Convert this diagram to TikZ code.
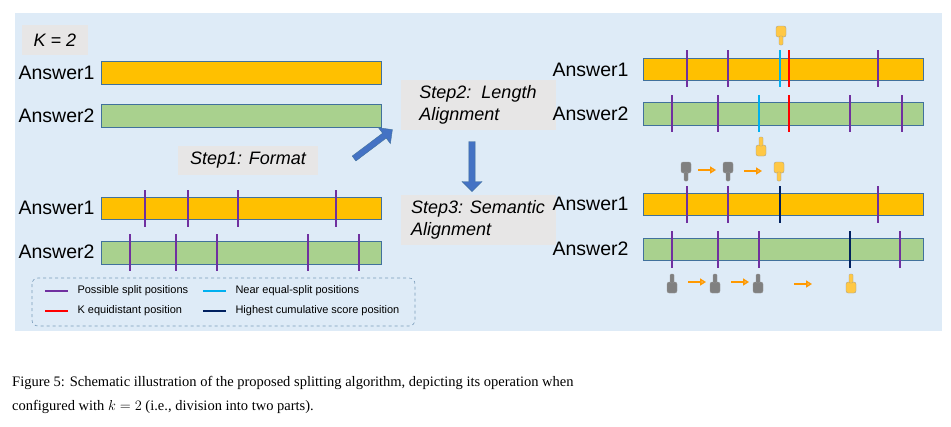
\documentclass[tikz,border=0pt]{standalone}
\usepackage{fontspec}
\setmainfont{Liberation Serif}
\newfontfamily\sansf{Liberation Sans}
\usetikzlibrary{shapes.arrows,arrows.meta}
\definecolor{bg}{HTML}{DEEBF7}
\definecolor{boxg}{HTML}{E7E6E6}
\definecolor{ora}{HTML}{FFC000}
\definecolor{grn}{HTML}{A9D18E}
\definecolor{brd}{HTML}{41719C}
\definecolor{pur}{HTML}{7030A0}
\definecolor{cya}{HTML}{00B0F0}
\definecolor{dkb}{HTML}{002060}
\definecolor{arr}{HTML}{4472C4}
\definecolor{hand}{HTML}{FFC845}
\definecolor{ghand}{HTML}{808080}
\definecolor{oarr}{HTML}{FF9900}
\begin{document}
\begin{tikzpicture}[x=1pt,y=-1pt,
  lab/.style={font=\sansf\fontsize{19.5}{22}\selectfont,anchor=east},
  bar/.style={draw=brd,line width=0.8pt},
  a1/.style={bar,fill=ora},
  a2/.style={bar,fill=grn},
  tick/.style={line width=2.6pt,pur},
  stepbox/.style={fill=boxg,font=\sansf\itshape\fontsize{18}{22}\selectfont,align=left,inner sep=5pt},
  fat/.style={single arrow,draw=brd,fill=arr,minimum height=48pt,minimum width=20pt,single arrow head extend=5pt,inner sep=2pt},
  leg/.style={font=\sansf\fontsize{11}{13}\selectfont,anchor=west},
  sarr/.style={oarr,line width=2.2pt,-{Triangle[open,length=6pt,width=7pt]}},
  pics/hand/.style={code={
    \fill[#1,draw=black!40,line width=0.3pt,rounded corners=2pt] (-5,0) rectangle (5,-11);
    \fill[#1,draw=black!40,line width=0.3pt,rounded corners=1pt] (-2,-10) rectangle (2,-19);}}
]
\useasboundingbox (0,0) rectangle (951,426);
\fill[bg] (15,13) rectangle (942,331);
% K box
\node[stepbox,minimum width=66pt,minimum height=30pt] (k) at (55,40) {K = 2};
% left top bars
\node[lab] (l1) at (98,73) {Answer1};
\draw[a1] (101,61) rectangle (381,84);
\node[lab] (l2) at (98,116) {Answer2};
\draw[a2] (101,104) rectangle (381,127);
% step boxes
\node[stepbox,minimum width=140pt,minimum height=29pt,align=center] (s1) at (248,160) {Step1: Format};
\node[stepbox,minimum width=155pt,minimum height=50pt] (s2) at (478,105) {Step2:\ \ Length\\Alignment};
\node[stepbox,minimum width=155pt,minimum height=50pt] (s3) at (478,220) {Step3: Semantic\\Alignment};
\node[fat,rotate=37] (ar1) at (372,145) {};
\node[fat,rotate=-90,minimum height=50pt] (ar2) at (472,165) {};
% left bottom bars
\node[lab] (l3) at (98,208) {Answer1};
\draw[a1] (101,197) rectangle (381,219);
\foreach \x in {145,188,238,336} \draw[tick] (\x,190) -- (\x,227);
\node[lab] (l4) at (98,252) {Answer2};
\draw[a2] (101,241) rectangle (381,264);
\foreach \x in {130,176,217,308,359} \draw[tick] (\x,234) -- (\x,271);
% legend
\draw[brd!70,dashed,rounded corners=6pt,line width=0.6pt] (32,278) rectangle (415,326);
\draw[tick,line width=2pt] (45,291) -- (68,291); \node[leg] (g1) at (74,291) {Possible split positions};
\draw[cya,line width=2pt] (203,291) -- (226,291); \node[leg] (g2) at (232,291) {Near equal-split positions};
\draw[red,line width=2pt] (45,311) -- (68,311); \node[leg] (g3) at (74,311) {K equidistant position};
\draw[dkb,line width=2pt] (203,311) -- (226,311); \node[leg] (g4) at (232,311) {Highest cumulative score position};
% right top
\node[lab] (r1) at (632,70) {Answer1};
\draw[a1] (643,58) rectangle (923,80);
\foreach \x in {687,728,878} \draw[tick] (\x,50) -- (\x,87);
\draw[tick,cya] (780,50) -- (780,87);
\draw[tick,red] (789,50) -- (789,87);
\node[lab] (r2) at (632,114) {Answer2};
\draw[a2] (643,102) rectangle (923,125);
\foreach \x in {672,718,850,902} \draw[tick] (\x,95) -- (\x,132);
\draw[tick,cya] (759,95) -- (759,132);
\draw[tick,red] (789,95) -- (789,132);
\pic[yscale=-1] at (781,26) {hand=hand};
\pic at (761,156) {hand=hand};
\pic[yscale=-1] at (686,162) {hand=ghand};
\pic[yscale=-1] at (728,162) {hand=ghand};
\pic[yscale=-1] at (779,162) {hand=hand};
\draw[sarr] (698,170) -- (716,170);
\draw[sarr] (744,171) -- (762,171);
% right bottom
\node[lab] (r3) at (632,204) {Answer1};
\draw[a1] (643,193) rectangle (923,215);
\foreach \x in {687,728,878} \draw[tick] (\x,186) -- (\x,223);
\draw[tick,dkb] (780,186) -- (780,223);
\node[lab] (r4) at (632,249) {Answer2};
\draw[a2] (643,238) rectangle (923,260);
\foreach \x in {672,718,759,900} \draw[tick] (\x,231) -- (\x,268);
\draw[tick,dkb] (850,231) -- (850,268);
\foreach \x in {672,715,758} \pic at (\x,293) {hand=ghand};
\pic at (851,293) {hand=hand};
\draw[sarr] (688,282) -- (706,282);
\draw[sarr] (731,282) -- (749,282);
\draw[sarr] (794,284) -- (812,284);
% caption
\node[anchor=west,font=\fontsize{14.5}{24}\selectfont,align=left,inner sep=0pt] (cap) at (12,395)
 {Figure 5: Schematic illustration of the proposed splitting algorithm, depicting its operation when\\configured with $k = 2$ (i.e., division into two parts).};
\end{tikzpicture}
\end{document}
